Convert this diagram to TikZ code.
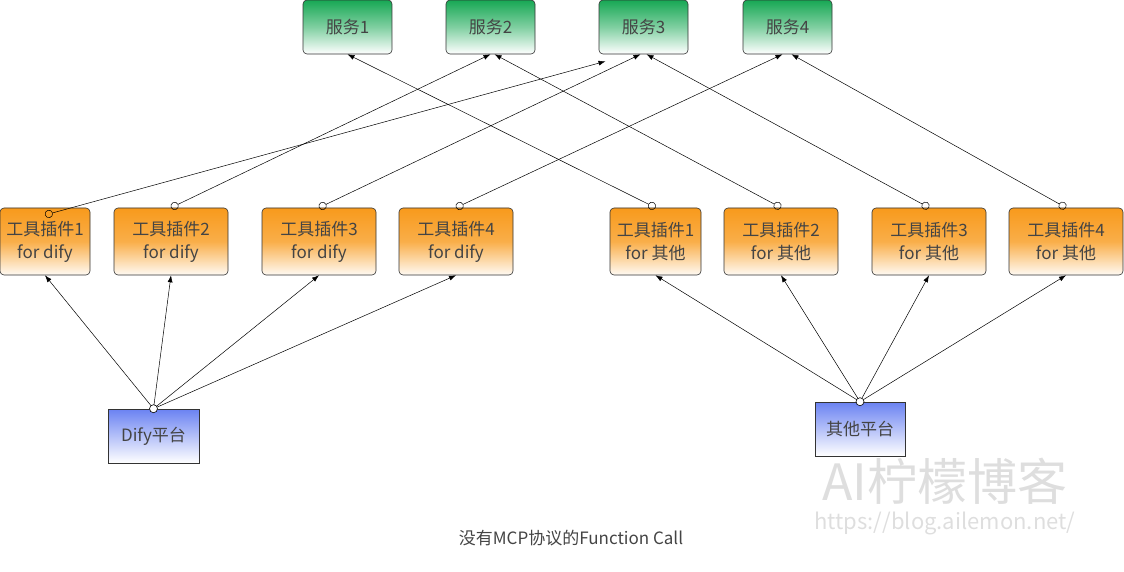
\documentclass[tikz,border=0pt]{standalone}
\usepackage{fontspec}
\setmainfont{Noto Sans CJK SC}
\usetikzlibrary{arrows.meta}
\definecolor{gtop}{HTML}{17A854}
\definecolor{otop}{HTML}{F89A1C}
\definecolor{btop}{HTML}{6A82F2}
\definecolor{txt}{HTML}{444444}
\begin{document}
\begin{tikzpicture}[x=1pt,y=-1pt,
 box/.style={draw=black!80,line width=0.6pt,rounded corners=4pt,inner sep=0pt,text=txt,font=\fontsize{17}{23}\selectfont,align=center},
 svc/.style={box,minimum width=89pt,minimum height=54pt,top color=gtop,bottom color=white,middle color=gtop!55!white},
 plug/.style={box,minimum width=114pt,minimum height=67pt,top color=otop,bottom color=otop!5!white,middle color=otop!80!white},
 plat/.style={box,rounded corners=0pt,minimum width=91pt,minimum height=54pt,top color=btop,bottom color=white},
 con/.style={line width=0.5pt,{Circle[open,length=8pt,width=8pt]}-{Latex[length=7pt,width=5pt]}},
 con2/.style={line width=0.5pt,-{Latex[length=7pt,width=5pt]}},
 dot/.style={circle,draw,line width=0.6pt,fill=white,inner sep=0pt,minimum size=8pt}]
\useasboundingbox (0,0) rectangle (1124,572);
\node[svc] (s1) at (347.5,27) {服务1};
\node[svc] (s2) at (490.5,27) {服务2};
\node[svc] (s3) at (643.5,27) {服务3};
\node[svc] (s4) at (787.5,27) {服务4};
\node[plug,minimum width=90pt] (d1) at (45,241.5) {工具插件1\\for dify};
\node[plug] (d2) at (171,241.5) {工具插件2\\for dify};
\node[plug] (d3) at (319,241.5) {工具插件3\\for dify};
\node[plug] (d4) at (456,241.5) {工具插件4\\for dify};
\node[plug,minimum width=91pt] (o1) at (655.5,241.5) {工具插件1\\for 其他};
\node[plug] (o2) at (781,241.5) {工具插件2\\for 其他};
\node[plug] (o3) at (929,241.5) {工具插件3\\for 其他};
\node[plug] (o4) at (1066,241.5) {工具插件4\\for 其他};
\node[plat] (p1) at (153.5,436) {Dify平台};
\node[plat,minimum width=90pt] (p2) at (860,429) {其他平台};
\coordinate (d1c) at (45,215);
\draw[con] (d1c) -- ([xshift=-38pt,yshift=-7pt]s3.south);
\draw[con] (d2.north) -- (s2.south);
\draw[con] (d3.north) -- ([xshift=-3pt]s3.south);
\draw[con] (d4.north) -- ([xshift=-5pt]s4.south);
\draw[con] (o1.north) -- (s1.south);
\draw[con] (o2.north) -- ([xshift=4pt]s2.south);
\draw[con] (o3.north) -- ([xshift=3pt]s3.south);
\draw[con] (o4.north) -- ([xshift=4pt]s4.south);
\foreach \t in {d1,d2,d3,d4} \draw[con2] (p1.north) -- (\t.south);
\foreach \t in {o1,o2,o3,o4} \draw[con2] (p2.north) -- (\t.south);
\node[dot] (p1c) at (p1.north) {};
\node[dot] (p2c) at (p2.north) {};
\node[text=txt,font=\fontsize{17}{20}\selectfont] (cap) at (571,538) {没有MCP协议的Function Call};
\node[text=black!13,font=\fontsize{50}{54}\selectfont] (wm1) at (945,481) {AI柠檬博客};
\node[text=black!13,font=\fontsize{22}{24}\selectfont] (wm2) at (945,523) {https://blog.ailemon.net/};
\end{tikzpicture}
\end{document}
